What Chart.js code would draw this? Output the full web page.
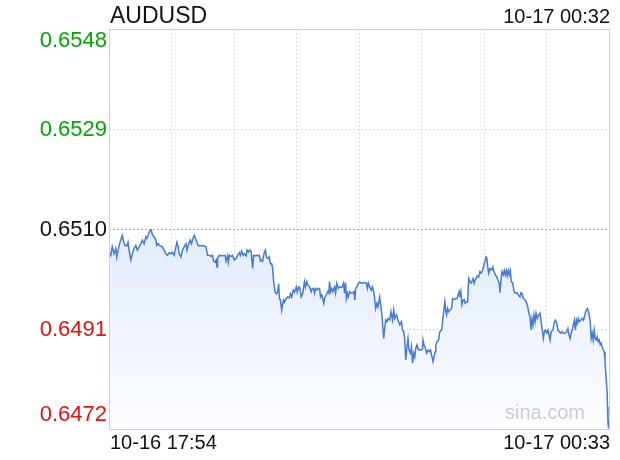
<!DOCTYPE html>
<html>
<head>
<meta charset="utf-8">
<script src="https://cdn.jsdelivr.net/npm/chart.js@4/dist/chart.umd.min.js"></script>
<style>
html,body{margin:0;padding:0;background:#fff;}
#wrap{width:620px;height:460px;position:relative;}
</style>
</head>
<body>
<div id="wrap"><canvas id="c" width="620" height="460"></canvas></div>
<script>
const symbol = 'AUDUSD';
const nowLabel = '10-17 00:32';
const xLabels = ['10-16 17:54', '10-17 00:33'];
const sessionMinutes = 399;
const xDivisions = 8;
const prevClose = 0.6510;
const yTicks = [0.6472, 0.6491, 0.6510, 0.6529, 0.6548];
const watermark = 'sina.com';

// minutes since 10-16 17:54
const minutes = [
0,1.4,2.6,4,5.4,6.2,7.2,8.8,10.6,11.4,12.6,14.2,15.2,16,17.4,18.6,20,21.4,22.6,24,
25.4,26.6,28,29.4,30.2,31.2,32.8,33.8,34.6,36,37.4,38.2,39.2,40.8,42.6,44,45.4,46.6,48,49.4,
50.6,52,53.4,54.2,55.2,56,57.4,58.6,60,61.4,62.2,63.2,64.8,65.8,67,68,69,70.2,71.2,73.4,
75.4,77.4,78.6,80,81.4,82.6,83.4,84.6,85.4,86.2,86.6,88,89.4,90.6,92.6,93.4,94.6,95.2,96,97.4,
98.6,100,101.4,102.6,104,104.8,105.8,107,108,109.4,110.2,111.2,112.2,113.4,114.6,115.4,116.6,118.2,119.2,120,
120.8,121.8,122.6,123.4,124,124.8,125.6,126.6,127.8,128.8,129.8,130.6,131.4,132.6,133.6,134.6,135.4,136,136.8,137.8,
138.6,139.4,140,141.4,142.6,144,144.8,145.8,147,148,149.4,150.2,151.2,152,153.4,154.6,156,156.8,157.8,158.6,
160,161.4,162.2,163.2,164,164.8,165.8,166.6,168,168.8,169.8,170.6,171.4,172,173.4,174.6,175.4,176,176.8,177.8,
178.6,180,180.8,181.8,183,184,185.4,186.2,187.2,188,188.8,189.4,190.2,191,192,193.4,194.6,195.4,196.2,196.8,
197.8,199,200,201.4,202.6,204,205.4,206.2,207,208,209.4,210.2,211.2,212,212.8,213.8,214.6,216,216.8,217.8,
218.6,219.2,220,220.8,221.8,222.6,224,225,226.2,227.2,228,229.4,230.6,232,233.4,234.2,235.2,236,236.8,237.8,
238.6,239.4,240.6,241.4,242.2,243.2,244,244.8,245.8,246.6,247.4,248.6,249.4,250.2,250.6,251.4,252.2,253.4,254.6,255.4,
256.6,257.4,258.6,259.4,260.2,260.8,261.8,263,264,265.4,266.2,267.2,268,268.8,269.4,270.2,271,272,273.4,274.2,
275.4,276.8,277.8,278.6,279.4,280,280.8,281.6,282.6,283.4,284.2,285.4,286.2,287,288,288.8,289.6,290.6,291.4,292.2,
293,293.8,295,296,297,298.2,299.2,300.2,300.8,301.4,302.2,303,304,305.4,306.4,307.2,308.2,309.4,310.4,311.4,
312,312.8,313.6,314.6,315.4,316.2,317,317.8,318.6,319.4,320.2,321,322.2,323.2,324.2,325.4,326.6,328,328.8,329.6,
330.6,332,333.4,334.2,335,336,336.8,337.6,338.4,339.2,340,340.8,341.8,343,344,344.8,345.6,346.6,347.4,348.2,
349.4,350.4,351.2,352,352.8,354.2,355.2,356.2,357.4,358.2,359.4,360.6,361.6,362.6,364,365.4,366.2,367,368,368.8,
369.6,370.6,371.4,372.2,373,373.8,374.6,375.4,376.6,377.6,378.6,379.8,380.8,381.8,383,384,384.8,385.6,386.4,387.2,
388,388.8,389.6,390.4,391.2,392,392.8,393.6,394.4,395.2,395.8,396.6,397.4,397.8,398.2,398.7,399
];

const prices = [
0.65056,0.65050,0.65066,0.65053,0.65063,0.65047,0.65060,0.65075,0.65088,0.65079,0.65069,0.65068,0.65075,0.65060,0.65041,0.65053,0.65063,0.65069,0.65060,0.65066,
0.65072,0.65079,0.65072,0.65085,0.65082,0.65088,0.65098,0.65098,0.65089,0.65085,0.65079,0.65069,0.65072,0.65068,0.65066,0.65060,0.65053,0.65050,0.65055,0.65053,
0.65056,0.65050,0.65066,0.65075,0.65066,0.65053,0.65047,0.65060,0.65066,0.65072,0.65060,0.65069,0.65079,0.65072,0.65082,0.65088,0.65082,0.65075,0.65068,0.65068,
0.65068,0.65066,0.65050,0.65050,0.65048,0.65050,0.65039,0.65037,0.65041,0.65028,0.65044,0.65050,0.65049,0.65049,0.65050,0.65039,0.65049,0.65037,0.65050,0.65048,
0.65050,0.65041,0.65044,0.65050,0.65055,0.65050,0.65058,0.65050,0.65053,0.65049,0.65060,0.65056,0.65060,0.65058,0.65025,0.65050,0.65049,0.65050,0.65049,0.65050,
0.65039,0.65041,0.65039,0.65050,0.65056,0.65060,0.65047,0.65044,0.65047,0.65034,0.65034,0.65025,0.64999,0.64980,0.64977,0.64980,0.64996,0.64968,0.64965,0.64946,
0.64958,0.64965,0.64961,0.64968,0.64971,0.64969,0.64977,0.64971,0.64984,0.64980,0.64990,0.64980,0.64990,0.64990,0.64971,0.64978,0.65000,0.64990,0.65000,0.64994,
0.64990,0.64981,0.64987,0.64987,0.64978,0.64987,0.64984,0.64987,0.64987,0.64971,0.64975,0.64968,0.64959,0.64968,0.64975,0.64981,0.64978,0.65000,0.64981,0.64987,
0.64981,0.64990,0.64978,0.64997,0.64987,0.64990,0.64989,0.64990,0.64997,0.64978,0.64998,0.64968,0.64978,0.64971,0.64981,0.64978,0.64979,0.64981,0.64965,0.64987,
0.64990,0.64997,0.64999,0.64997,0.64998,0.64998,0.64997,0.64987,0.64997,0.64990,0.64984,0.64990,0.64981,0.64968,0.64949,0.64959,0.64952,0.64971,0.64956,0.64937,
0.64911,0.64892,0.64911,0.64927,0.64924,0.64930,0.64927,0.64943,0.64927,0.64946,0.64930,0.64937,0.64927,0.64918,0.64924,0.64908,0.64905,0.64889,0.64851,0.64876,
0.64892,0.64870,0.64864,0.64876,0.64845,0.64864,0.64857,0.64873,0.64880,0.64873,0.64870,0.64870,0.64870,0.64873,0.64889,0.64880,0.64876,0.64864,0.64870,0.64867,
0.64870,0.64861,0.64848,0.64857,0.64867,0.64880,0.64886,0.64889,0.64905,0.64908,0.64924,0.64946,0.64962,0.64943,0.64937,0.64949,0.64943,0.64946,0.64949,0.64968,
0.64966,0.64968,0.64968,0.64975,0.64981,0.64971,0.64981,0.64956,0.64965,0.64966,0.64959,0.64962,0.64962,0.65006,0.65000,0.64997,0.65000,0.65006,0.64997,0.65003,
0.65006,0.65011,0.65009,0.65019,0.65016,0.65022,0.65032,0.65041,0.65047,0.65046,0.65028,0.65016,0.65025,0.65022,0.65028,0.65019,0.65013,0.65009,0.65003,0.64997,
0.64979,0.65003,0.65019,0.65013,0.65021,0.65013,0.65021,0.65011,0.65021,0.65013,0.65021,0.65000,0.64997,0.64981,0.64978,0.64979,0.64975,0.64971,0.64979,0.64978,
0.64968,0.64965,0.64959,0.64952,0.64940,0.64933,0.64908,0.64930,0.64918,0.64937,0.64924,0.64940,0.64930,0.64937,0.64940,0.64924,0.64911,0.64892,0.64905,0.64908,
0.64902,0.64908,0.64899,0.64889,0.64905,0.64908,0.64921,0.64927,0.64921,0.64908,0.64905,0.64902,0.64905,0.64902,0.64902,0.64905,0.64911,0.64899,0.64892,0.64902,
0.64908,0.64918,0.64927,0.64908,0.64927,0.64921,0.64930,0.64924,0.64927,0.64930,0.64927,0.64937,0.64946,0.64949,0.64940,0.64924,0.64892,0.64902,0.64889,0.64908,
0.64892,0.64889,0.64895,0.64886,0.64889,0.64880,0.64883,0.64876,0.64870,0.64867,0.64851,0.64819,0.64794,0.64762,0.64731,0.64721,0.64737
];

const FONT = '"Liberation Sans", Arial, Helvetica, sans-serif';
const GREEN = '#00a800';
const RED = '#e81010';
const BLACK = '#111';

const points = minutes.map((m, i) => ({x: m, y: prices[i]}));

const framePlugin = {
  id: 'frame',
  beforeDatasetsDraw(chart) {
    const {ctx, chartArea: a, scales: {x, y}} = chart;
    ctx.save();
    ctx.lineWidth = 1;
    ctx.strokeStyle = '#dcdcdc';
    ctx.setLineDash([2, 2]);
    for (let k = 1; k < xDivisions; k++) {
      const px = Math.floor(x.getPixelForValue(sessionMinutes * k / xDivisions)) + 0.5;
      ctx.beginPath(); ctx.moveTo(px, a.top); ctx.lineTo(px, a.bottom); ctx.stroke();
    }
    for (let i = 1; i < yTicks.length - 1; i++) {
      const py = Math.floor(y.getPixelForValue(yTicks[i])) + 0.5;
      ctx.strokeStyle = yTicks[i] === prevClose ? '#a8a8a8' : '#dcdcdc';
      ctx.beginPath(); ctx.moveTo(a.left, py); ctx.lineTo(a.right, py); ctx.stroke();
    }
    ctx.setLineDash([]);
    ctx.restore();
  },
  afterDatasetsDraw(chart) {
    const {ctx, chartArea: a, scales: {x, y}} = chart;
    ctx.save();
    ctx.lineWidth = 1;
    ctx.strokeStyle = '#cfcfcf';
    ctx.strokeRect(a.left + 0.5, a.top + 0.5, a.right - a.left, a.bottom - a.top);

    ctx.font = '20px ' + FONT;
    ctx.fillStyle = '#cccccc';
    ctx.textAlign = 'right';
    ctx.textBaseline = 'middle';
    ctx.fillText(watermark, a.right - 24, a.bottom - 16);

    ctx.fillStyle = BLACK;
    ctx.textAlign = 'left';
    ctx.font = '23px ' + FONT;
    ctx.fillText(symbol, a.left + 1, 17);
    ctx.textAlign = 'right';
    ctx.font = '20px ' + FONT;
    ctx.fillText(nowLabel, a.right + 1, 17);

    ctx.font = '22px ' + FONT;
    ctx.textAlign = 'right';
    yTicks.forEach((v, i) => {
      let py = y.getPixelForValue(v);
      if (i === yTicks.length - 1) py += 11;
      if (i === 0) py -= 15;
      ctx.fillStyle = v > prevClose ? GREEN : (v < prevClose ? RED : BLACK);
      ctx.fillText(v.toFixed(4), a.left - 2, py + 1);
    });

    ctx.font = '20px ' + FONT;
    ctx.fillStyle = BLACK;
    ctx.textAlign = 'left';
    ctx.fillText(xLabels[0], x.getPixelForValue(0) + 1, a.bottom + 14);
    ctx.textAlign = 'right';
    ctx.fillText(xLabels[1], x.getPixelForValue(sessionMinutes) + 1, a.bottom + 14);
    ctx.restore();
  }
};

new Chart(document.getElementById('c'), {
  type: 'line',
  data: {
    datasets: [{
      data: points,
      borderColor: '#477bd4',
      borderWidth: 1.5,
      pointRadius: 0,
      tension: 0,
      fill: 'start',
      backgroundColor(context) {
        const {ctx, chartArea} = context.chart;
        if (!chartArea) return 'rgba(230,238,252,0.8)';
        const top = context.chart.scales.y.getPixelForValue(prevClose);
        const g = ctx.createLinearGradient(0, top, 0, chartArea.bottom);
        g.addColorStop(0, '#e2ebfb');
        g.addColorStop(1, '#fcfdff');
        return g;
      }
    }]
  },
  options: {
    responsive: false,
    animation: false,
    events: [],
    layout: {padding: {left: 109, right: 11, top: 29, bottom: 31}},
    plugins: {legend: {display: false}, tooltip: {enabled: false}},
    scales: {
      x: {type: 'linear', min: 0, max: sessionMinutes, display: false},
      y: {type: 'linear', min: yTicks[0], max: yTicks[yTicks.length - 1], display: false}
    }
  },
  plugins: [framePlugin]
});
</script>
</body>
</html>
